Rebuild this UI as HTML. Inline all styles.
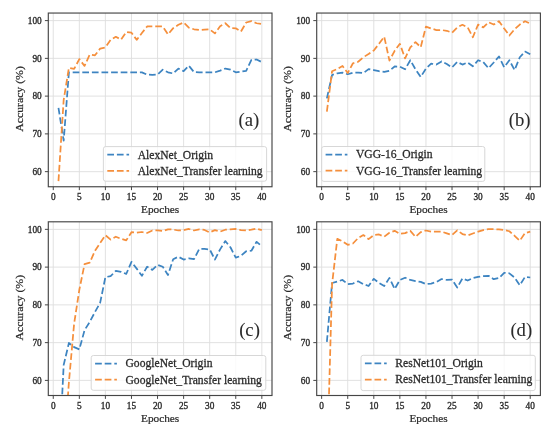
<!DOCTYPE html>
<html><head><meta charset="utf-8"><title>Accuracy vs Epoches</title>
<style>
html,body{margin:0;padding:0;background:#fff;}
body{width:550px;height:432px;overflow:hidden;}
svg{display:block;filter:blur(0.45px);}
text{font-family:'Liberation Serif', 'DejaVu Serif', serif;fill:#2a2a2a;stroke:#2a2a2a;stroke-width:0.22px;}
.tk{font-size:9.3px;stroke-width:0.32px;}
.lg{font-size:11.6px;stroke-width:0.28px;}
.al{font-size:11.1px;}
.pl{font-size:18.7px;stroke-width:0.08px;}
</style></head>
<body>
<svg width="550" height="432" viewBox="0 0 550 432">
<rect width="550" height="432" fill="#fff"/>
<clipPath id="clipa"><rect x="48.3" y="13.05" width="223.7" height="173.7"/></clipPath>
<path d="M53.25 13.05V186.75M79.33 13.05V186.75M105.4 13.05V186.75M131.47 13.05V186.75M157.54 13.05V186.75M183.62 13.05V186.75M209.69 13.05V186.75M235.76 13.05V186.75M261.83 13.05V186.75M48.3 171.65H272M48.3 133.88H272M48.3 96.12H272M48.3 58.36H272M48.3 20.6H272" stroke="#dedede" stroke-width="0.9" fill="none"/>
<path d="M58.47 107.83 L63.68 140.68 L68.9 72.33 L74.11 72.33 L79.33 72.33 L84.54 72.33 L89.75 72.33 L94.97 72.33 L100.18 72.33 L105.4 72.33 L110.61 72.33 L115.83 72.33 L121.04 72.33 L126.26 72.33 L131.47 72.33 L136.68 72.33 L141.9 72.33 L147.11 74.6 L152.33 74.98 L157.54 74.6 L162.76 69.69 L167.97 72.33 L173.19 73.47 L178.4 68.56 L183.62 71.2 L188.83 65.73 L194.04 72.15 L199.26 72.33 L204.47 72.33 L209.69 72.33 L214.9 72.33 L220.12 70.64 L225.33 68.56 L230.55 69.69 L235.76 72.33 L240.97 71.58 L246.19 70.82 L251.4 59.87 L256.62 59.5 L261.83 62.14" stroke="#3d84c1" stroke-width="1.75" stroke-dasharray="6.7 2.9" fill="none" clip-path="url(#clipa)" stroke-linejoin="round"/>
<path d="M58.47 181.09 L63.68 99.9 L68.9 67.8 L74.11 68.94 L79.33 59.12 L84.54 65.92 L89.75 54.59 L94.97 55.34 L100.18 48.55 L105.4 47.41 L110.61 39.86 L115.83 36.84 L121.04 39.48 L126.26 31.93 L131.47 32.69 L136.68 39.86 L141.9 33.06 L147.11 26.46 L152.33 26.46 L157.54 26.46 L162.76 26.46 L167.97 34.38 L173.19 28.15 L178.4 24.76 L183.62 22.49 L188.83 27.59 L194.04 29.29 L199.26 30.04 L204.47 29.66 L209.69 29.29 L214.9 33.44 L220.12 26.27 L225.33 23.25 L230.55 28.15 L235.76 28.34 L240.97 31.55 L246.19 22.49 L251.4 21.17 L256.62 23.25 L261.83 24" stroke="#f58f3c" stroke-width="1.75" stroke-dasharray="6.7 2.9" fill="none" clip-path="url(#clipa)" stroke-linejoin="round"/>
<rect x="103.4" y="146.6" width="163.2" height="34.6" rx="2.2" ry="2.2" fill="#ffffff" fill-opacity="0.8" stroke="#d2d2d2" stroke-width="0.9"/>
<path d="M107.3 154.7H129.1" stroke="#3d84c1" stroke-width="1.75" stroke-dasharray="6.7 2.9"/>
<path d="M107.3 170.8H129.1" stroke="#f58f3c" stroke-width="1.75" stroke-dasharray="6.7 2.9"/>
<text x="137.7" y="158.5" class="lg">AlexNet_Origin</text>
<text x="137.7" y="174.6" class="lg">AlexNet_Transfer learning</text>
<text x="248.8" y="126.2" class="pl" text-anchor="middle">(a)</text>
<rect x="48.3" y="13.05" width="223.7" height="173.7" fill="none" stroke="#464646" stroke-width="1.15"/>
<path d="M53.25 186.75v3.4M79.33 186.75v3.4M105.4 186.75v3.4M131.47 186.75v3.4M157.54 186.75v3.4M183.62 186.75v3.4M209.69 186.75v3.4M235.76 186.75v3.4M261.83 186.75v3.4M48.3 171.65h-3.4M48.3 133.88h-3.4M48.3 96.12h-3.4M48.3 58.36h-3.4M48.3 20.6h-3.4" stroke="#464646" stroke-width="1.0" fill="none"/>
<text x="53.25" y="199.75" class="tk" text-anchor="middle">0</text>
<text x="79.33" y="199.75" class="tk" text-anchor="middle">5</text>
<text x="105.4" y="199.75" class="tk" text-anchor="middle">10</text>
<text x="131.47" y="199.75" class="tk" text-anchor="middle">15</text>
<text x="157.54" y="199.75" class="tk" text-anchor="middle">20</text>
<text x="183.62" y="199.75" class="tk" text-anchor="middle">25</text>
<text x="209.69" y="199.75" class="tk" text-anchor="middle">30</text>
<text x="235.76" y="199.75" class="tk" text-anchor="middle">35</text>
<text x="261.83" y="199.75" class="tk" text-anchor="middle">40</text>
<text x="41.7" y="174.95" class="tk" text-anchor="end">60</text>
<text x="41.7" y="137.18" class="tk" text-anchor="end">70</text>
<text x="41.7" y="99.42" class="tk" text-anchor="end">80</text>
<text x="41.7" y="61.66" class="tk" text-anchor="end">90</text>
<text x="41.7" y="23.9" class="tk" text-anchor="end">100</text>
<text x="160.15" y="213.15" class="al" text-anchor="middle" textLength="38.2" lengthAdjust="spacingAndGlyphs">Epoches</text>
<text transform="translate(23 99) rotate(-90)" x="0" y="0" class="al" text-anchor="middle" textLength="65.6" lengthAdjust="spacingAndGlyphs">Accuracy (%)</text>
<clipPath id="clipb"><rect x="316.7" y="13.05" width="223.7" height="173.7"/></clipPath>
<path d="M321.65 13.05V186.75M347.73 13.05V186.75M373.8 13.05V186.75M399.87 13.05V186.75M425.94 13.05V186.75M452.02 13.05V186.75M478.09 13.05V186.75M504.16 13.05V186.75M530.23 13.05V186.75M316.7 171.65H540.4M316.7 133.88H540.4M316.7 96.12H540.4M316.7 58.36H540.4M316.7 20.6H540.4" stroke="#dedede" stroke-width="0.9" fill="none"/>
<path d="M326.87 98.39 L332.08 74.98 L337.3 73.28 L342.51 72.71 L347.73 74.22 L352.94 72.71 L358.15 72.71 L363.37 73.09 L368.58 69.12 L373.8 70.07 L379.01 71.2 L384.23 71.96 L389.44 70.82 L394.66 66.48 L399.87 66.67 L405.08 69.31 L410.3 60.25 L415.51 69.31 L420.73 76.87 L425.94 68.56 L431.16 63.65 L436.37 64.59 L441.59 61.38 L446.8 64.03 L452.02 67.43 L457.23 61.95 L462.44 64.59 L467.66 62.52 L472.87 66.29 L478.09 60.25 L483.3 62.14 L488.52 68.18 L493.73 62.52 L498.95 56.47 L504.16 67.24 L509.37 60.25 L514.59 70.07 L519.8 57.23 L525.02 51.57 L530.23 54.21" stroke="#3d84c1" stroke-width="1.75" stroke-dasharray="6.7 2.9" fill="none" clip-path="url(#clipb)" stroke-linejoin="round"/>
<path d="M326.87 111.61 L332.08 71.2 L337.3 68.94 L342.51 65.92 L347.73 73.09 L352.94 63.27 L358.15 61.76 L363.37 57.23 L368.58 54.02 L373.8 50.43 L379.01 43.83 L384.23 36.65 L389.44 60.63 L394.66 50.81 L399.87 43.83 L405.08 58.36 L410.3 47.41 L415.51 42.13 L420.73 47.22 L425.94 26.64 L431.16 28.53 L436.37 30.04 L441.59 30.04 L446.8 30.8 L452.02 32.69 L457.23 27.4 L462.44 24.76 L467.66 27.4 L472.87 37.22 L478.09 24.57 L483.3 27.4 L488.52 22.3 L493.73 24.57 L498.95 21.17 L504.16 28.53 L509.37 35.52 L514.59 29.29 L519.8 24.57 L525.02 21.17 L530.23 23.62" stroke="#f58f3c" stroke-width="1.75" stroke-dasharray="6.7 2.9" fill="none" clip-path="url(#clipb)" stroke-linejoin="round"/>
<rect x="321.7" y="146.5" width="163.1" height="34.9" rx="2.2" ry="2.2" fill="#ffffff" fill-opacity="0.8" stroke="#d2d2d2" stroke-width="0.9"/>
<path d="M325.6 154.6H347.4" stroke="#3d84c1" stroke-width="1.75" stroke-dasharray="6.7 2.9"/>
<path d="M325.6 170.7H347.4" stroke="#f58f3c" stroke-width="1.75" stroke-dasharray="6.7 2.9"/>
<text x="356" y="158.4" class="lg">VGG-16_Origin</text>
<text x="356" y="174.5" class="lg">VGG-16_Transfer learning</text>
<text x="519.7" y="126.2" class="pl" text-anchor="middle">(b)</text>
<rect x="316.7" y="13.05" width="223.7" height="173.7" fill="none" stroke="#464646" stroke-width="1.15"/>
<path d="M321.65 186.75v3.4M347.73 186.75v3.4M373.8 186.75v3.4M399.87 186.75v3.4M425.94 186.75v3.4M452.02 186.75v3.4M478.09 186.75v3.4M504.16 186.75v3.4M530.23 186.75v3.4M316.7 171.65h-3.4M316.7 133.88h-3.4M316.7 96.12h-3.4M316.7 58.36h-3.4M316.7 20.6h-3.4" stroke="#464646" stroke-width="1.0" fill="none"/>
<text x="321.65" y="199.75" class="tk" text-anchor="middle">0</text>
<text x="347.73" y="199.75" class="tk" text-anchor="middle">5</text>
<text x="373.8" y="199.75" class="tk" text-anchor="middle">10</text>
<text x="399.87" y="199.75" class="tk" text-anchor="middle">15</text>
<text x="425.94" y="199.75" class="tk" text-anchor="middle">20</text>
<text x="452.02" y="199.75" class="tk" text-anchor="middle">25</text>
<text x="478.09" y="199.75" class="tk" text-anchor="middle">30</text>
<text x="504.16" y="199.75" class="tk" text-anchor="middle">35</text>
<text x="530.23" y="199.75" class="tk" text-anchor="middle">40</text>
<text x="310.1" y="174.95" class="tk" text-anchor="end">60</text>
<text x="310.1" y="137.18" class="tk" text-anchor="end">70</text>
<text x="310.1" y="99.42" class="tk" text-anchor="end">80</text>
<text x="310.1" y="61.66" class="tk" text-anchor="end">90</text>
<text x="310.1" y="23.9" class="tk" text-anchor="end">100</text>
<text x="428.55" y="213.15" class="al" text-anchor="middle" textLength="38.2" lengthAdjust="spacingAndGlyphs">Epoches</text>
<text transform="translate(291.4 99) rotate(-90)" x="0" y="0" class="al" text-anchor="middle" textLength="65.6" lengthAdjust="spacingAndGlyphs">Accuracy (%)</text>
<clipPath id="clipc"><rect x="48.3" y="221.8" width="223.7" height="173.7"/></clipPath>
<path d="M53.25 221.8V395.5M79.33 221.8V395.5M105.4 221.8V395.5M131.47 221.8V395.5M157.54 221.8V395.5M183.62 221.8V395.5M209.69 221.8V395.5M235.76 221.8V395.5M261.83 221.8V395.5M48.3 380.4H272M48.3 342.63H272M48.3 304.87H272M48.3 267.11H272M48.3 229.35H272" stroke="#dedede" stroke-width="0.9" fill="none"/>
<path d="M58.47 471.02 L63.68 364.91 L68.9 343.01 L74.11 347.17 L79.33 349.43 L84.54 330.17 L89.75 321.87 L94.97 312.05 L100.18 302.61 L105.4 277.12 L110.61 276.18 L115.83 270.89 L121.04 271.83 L126.26 273.91 L131.47 261.83 L136.68 268.62 L141.9 275.8 L147.11 266.74 L152.33 269.95 L157.54 264.85 L162.76 266.74 L167.97 275.04 L173.19 259.18 L178.4 256.73 L183.62 259.56 L188.83 258.43 L194.04 259.18 L199.26 248.99 L204.47 248.99 L209.69 249.37 L214.9 259.56 L220.12 249.37 L225.33 241.06 L230.55 247.48 L235.76 257.67 L240.97 255.78 L246.19 251.25 L251.4 250.69 L256.62 241.81 L261.83 246.34" stroke="#3d84c1" stroke-width="1.75" stroke-dasharray="6.7 2.9" fill="none" clip-path="url(#clipc)" stroke-linejoin="round"/>
<path d="M58.47 493.68 L63.68 455.92 L68.9 382.28 L74.11 323.75 L79.33 289.77 L84.54 264.09 L89.75 262.58 L94.97 250.88 L100.18 242.95 L105.4 235.21 L110.61 239.55 L115.83 236.72 L121.04 238.79 L126.26 240.3 L131.47 232.18 L136.68 232.75 L141.9 232 L147.11 232.94 L152.33 230.49 L157.54 230.49 L162.76 231.05 L167.97 229.35 L173.19 229.54 L178.4 230.49 L183.62 230.11 L188.83 228.97 L194.04 230.49 L199.26 229.35 L204.47 229.92 L209.69 232.37 L214.9 230.11 L220.12 231.62 L225.33 229.73 L230.55 229.35 L235.76 228.97 L240.97 230.11 L246.19 230.49 L251.4 229.73 L256.62 228.6 L261.83 230.11" stroke="#f58f3c" stroke-width="1.75" stroke-dasharray="6.7 2.9" fill="none" clip-path="url(#clipc)" stroke-linejoin="round"/>
<rect x="91.2" y="355.5" width="174.6" height="34.8" rx="2.2" ry="2.2" fill="#ffffff" fill-opacity="0.8" stroke="#d2d2d2" stroke-width="0.9"/>
<path d="M95.1 363.6H116.9" stroke="#3d84c1" stroke-width="1.75" stroke-dasharray="6.7 2.9"/>
<path d="M95.1 379.7H116.9" stroke="#f58f3c" stroke-width="1.75" stroke-dasharray="6.7 2.9"/>
<text x="125.5" y="367.4" class="lg">GoogleNet_Origin</text>
<text x="125.5" y="383.5" class="lg">GoogleNet_Transfer learning</text>
<text x="249.5" y="336.3" class="pl" text-anchor="middle">(c)</text>
<rect x="48.3" y="221.8" width="223.7" height="173.7" fill="none" stroke="#464646" stroke-width="1.15"/>
<path d="M53.25 395.5v3.4M79.33 395.5v3.4M105.4 395.5v3.4M131.47 395.5v3.4M157.54 395.5v3.4M183.62 395.5v3.4M209.69 395.5v3.4M235.76 395.5v3.4M261.83 395.5v3.4M48.3 380.4h-3.4M48.3 342.63h-3.4M48.3 304.87h-3.4M48.3 267.11h-3.4M48.3 229.35h-3.4" stroke="#464646" stroke-width="1.0" fill="none"/>
<text x="53.25" y="408.5" class="tk" text-anchor="middle">0</text>
<text x="79.33" y="408.5" class="tk" text-anchor="middle">5</text>
<text x="105.4" y="408.5" class="tk" text-anchor="middle">10</text>
<text x="131.47" y="408.5" class="tk" text-anchor="middle">15</text>
<text x="157.54" y="408.5" class="tk" text-anchor="middle">20</text>
<text x="183.62" y="408.5" class="tk" text-anchor="middle">25</text>
<text x="209.69" y="408.5" class="tk" text-anchor="middle">30</text>
<text x="235.76" y="408.5" class="tk" text-anchor="middle">35</text>
<text x="261.83" y="408.5" class="tk" text-anchor="middle">40</text>
<text x="41.7" y="383.7" class="tk" text-anchor="end">60</text>
<text x="41.7" y="345.93" class="tk" text-anchor="end">70</text>
<text x="41.7" y="308.17" class="tk" text-anchor="end">80</text>
<text x="41.7" y="270.41" class="tk" text-anchor="end">90</text>
<text x="41.7" y="232.65" class="tk" text-anchor="end">100</text>
<text x="160.15" y="421.9" class="al" text-anchor="middle" textLength="38.2" lengthAdjust="spacingAndGlyphs">Epoches</text>
<text transform="translate(23 307.75) rotate(-90)" x="0" y="0" class="al" text-anchor="middle" textLength="65.6" lengthAdjust="spacingAndGlyphs">Accuracy (%)</text>
<clipPath id="clipd"><rect x="316.7" y="221.8" width="223.7" height="173.7"/></clipPath>
<path d="M321.65 221.8V395.5M347.73 221.8V395.5M373.8 221.8V395.5M399.87 221.8V395.5M425.94 221.8V395.5M452.02 221.8V395.5M478.09 221.8V395.5M504.16 221.8V395.5M530.23 221.8V395.5M316.7 380.4H540.4M316.7 342.63H540.4M316.7 304.87H540.4M316.7 267.11H540.4M316.7 229.35H540.4" stroke="#dedede" stroke-width="0.9" fill="none"/>
<path d="M326.87 341.88 L332.08 282.97 L337.3 281.46 L342.51 279.95 L347.73 284.11 L352.94 283.54 L358.15 281.27 L363.37 284.11 L368.58 285.99 L373.8 278.82 L379.01 282.97 L384.23 285.99 L389.44 277.87 L394.66 289.01 L399.87 279.95 L405.08 277.69 L410.3 279.95 L415.51 281.08 L420.73 281.84 L425.94 284.11 L431.16 283.54 L436.37 282.03 L441.59 279.01 L446.8 279.95 L452.02 279.57 L457.23 287.5 L462.44 278.44 L467.66 280.52 L472.87 278.06 L478.09 276.93 L483.3 276.18 L488.52 275.8 L493.73 279.2 L498.95 278.06 L504.16 272.78 L509.37 273.34 L514.59 277.5 L519.8 285.24 L525.02 276.93 L530.23 277.5" stroke="#3d84c1" stroke-width="1.75" stroke-dasharray="6.7 2.9" fill="none" clip-path="url(#clipd)" stroke-linejoin="round"/>
<path d="M326.87 471.02 L332.08 284.11 L337.3 238.79 L342.51 241.25 L347.73 244.83 L352.94 243.51 L358.15 238.04 L363.37 235.02 L368.58 239.17 L373.8 235.02 L379.01 234.45 L384.23 236.72 L389.44 232.75 L394.66 230.86 L399.87 233.88 L405.08 233.13 L410.3 230.86 L415.51 236.9 L420.73 232.18 L425.94 230.49 L431.16 231.62 L436.37 231.62 L441.59 231.62 L446.8 233.32 L452.02 235.02 L457.23 230.3 L462.44 234.07 L467.66 235.39 L472.87 233.51 L478.09 231.62 L483.3 230.11 L488.52 229.16 L493.73 229.16 L498.95 229.35 L504.16 229.92 L509.37 231.24 L514.59 235.77 L519.8 240.68 L525.02 233.13 L530.23 231.62" stroke="#f58f3c" stroke-width="1.75" stroke-dasharray="6.7 2.9" fill="none" clip-path="url(#clipd)" stroke-linejoin="round"/>
<rect x="361" y="355.3" width="174.3" height="35.3" rx="2.2" ry="2.2" fill="#ffffff" fill-opacity="0.8" stroke="#d2d2d2" stroke-width="0.9"/>
<path d="M364.9 363.4H386.7" stroke="#3d84c1" stroke-width="1.75" stroke-dasharray="6.7 2.9"/>
<path d="M364.9 379.5H386.7" stroke="#f58f3c" stroke-width="1.75" stroke-dasharray="6.7 2.9"/>
<text x="395.3" y="367.2" class="lg">ResNet101_Origin</text>
<text x="395.3" y="383.3" class="lg">ResNet101_Transfer learning</text>
<text x="521.3" y="336.2" class="pl" text-anchor="middle">(d)</text>
<rect x="316.7" y="221.8" width="223.7" height="173.7" fill="none" stroke="#464646" stroke-width="1.15"/>
<path d="M321.65 395.5v3.4M347.73 395.5v3.4M373.8 395.5v3.4M399.87 395.5v3.4M425.94 395.5v3.4M452.02 395.5v3.4M478.09 395.5v3.4M504.16 395.5v3.4M530.23 395.5v3.4M316.7 380.4h-3.4M316.7 342.63h-3.4M316.7 304.87h-3.4M316.7 267.11h-3.4M316.7 229.35h-3.4" stroke="#464646" stroke-width="1.0" fill="none"/>
<text x="321.65" y="408.5" class="tk" text-anchor="middle">0</text>
<text x="347.73" y="408.5" class="tk" text-anchor="middle">5</text>
<text x="373.8" y="408.5" class="tk" text-anchor="middle">10</text>
<text x="399.87" y="408.5" class="tk" text-anchor="middle">15</text>
<text x="425.94" y="408.5" class="tk" text-anchor="middle">20</text>
<text x="452.02" y="408.5" class="tk" text-anchor="middle">25</text>
<text x="478.09" y="408.5" class="tk" text-anchor="middle">30</text>
<text x="504.16" y="408.5" class="tk" text-anchor="middle">35</text>
<text x="530.23" y="408.5" class="tk" text-anchor="middle">40</text>
<text x="310.1" y="383.7" class="tk" text-anchor="end">60</text>
<text x="310.1" y="345.93" class="tk" text-anchor="end">70</text>
<text x="310.1" y="308.17" class="tk" text-anchor="end">80</text>
<text x="310.1" y="270.41" class="tk" text-anchor="end">90</text>
<text x="310.1" y="232.65" class="tk" text-anchor="end">100</text>
<text x="428.55" y="421.9" class="al" text-anchor="middle" textLength="38.2" lengthAdjust="spacingAndGlyphs">Epoches</text>
<text transform="translate(291.4 307.75) rotate(-90)" x="0" y="0" class="al" text-anchor="middle" textLength="65.6" lengthAdjust="spacingAndGlyphs">Accuracy (%)</text>
</svg>
</body></html>
